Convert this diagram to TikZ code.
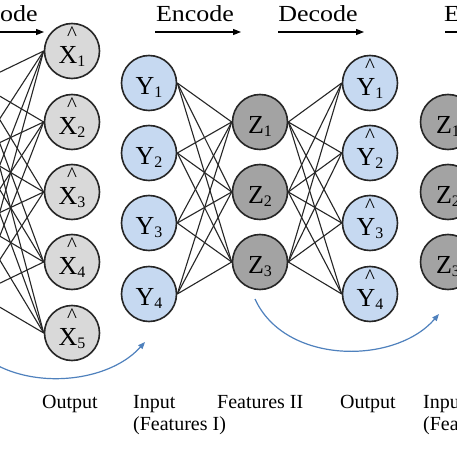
\documentclass[tikz,border=0pt]{standalone}
\usepackage{fontspec}
\setmainfont{Liberation Serif}
\usetikzlibrary{arrows.meta}
\definecolor{xfill}{HTML}{D9D9D9}
\definecolor{yfill}{HTML}{C6D9F1}
\definecolor{zfill}{HTML}{A3A3A3}
\definecolor{curveblue}{HTML}{4F81BD}
\definecolor{ring}{HTML}{262626}
\newcommand\nlab[2]{#1\raisebox{-3pt}{\fontsize{16}{16}\selectfont #2}}
\begin{document}
\begin{tikzpicture}[x=1pt,y=-1pt,
  neuron/.style={circle, draw=ring, line width=1.6pt, minimum size=55pt, inner sep=0pt,
    text height=23pt, text depth=0pt, font=\fontsize{26}{26}\selectfont},
  hatted/.style={neuron, text height=25pt,
    label={[hatlbl]center:\textasciicircum}},
  hatlbl/.style={font=\fontsize{21}{21}\selectfont, inner sep=0pt, yshift=17pt},
  xn/.style={hatted, fill=xfill},
  yn/.style={neuron, fill=yfill},
  yhn/.style={hatted, fill=yfill},
  zn/.style={neuron, fill=zfill},
  edge/.style={draw=black!85, line width=1.1pt},
  toplbl/.style={font=\fontsize{23}{23}\selectfont, inner sep=0pt, anchor=base},
  toparrow/.style={draw=black, line width=1.1pt, -{Triangle[length=8pt,width=6pt]}},
  botlbl/.style={font=\fontsize{20}{20}\selectfont, inner sep=0pt, anchor=base west},
  flow/.style={draw=curveblue, line width=1.2pt, -{Triangle[length=7pt,width=5.5pt]}}
]
\path[use as bounding box, clip] (0,0) rectangle (457,457);
\fill[white] (0,0) rectangle (457,457);

% east points of the previous hidden layer (off canvas)
\foreach \i/\yy in {1/83,2/153,3/223,4/294}
  \coordinate (p\i) at (-22.5,\yy);
% reconstructed output X-hat
\foreach \i/\yy in {1/51,2/122,3/192,4/262,5/333}
  \node[xn] (xh\i) at (72,\yy) {\nlab{X}{\i}};
% input (features I)
\foreach \i/\yy in {1/83,2/153,3/223,4/294}
  \node[yn] (y\i) at (149,\yy) {\nlab{Y}{\i}};
% features II
\foreach \i/\yy in {1/122,2/192,3/262}
  \node[zn] (z\i) at (260,\yy) {\nlab{Z}{\i}};
% output Y-hat
\foreach \i/\yy in {1/83,2/153,3/223,4/294}
  \node[yhn] (yh\i) at (370,\yy) {\nlab{Y}{\i}};
% next input (features II)
\foreach \i/\yy in {1/122,2/192,3/262}
  \node[zn] (zz\i) at (448,\yy) {\nlab{Z}{\i}};

% connections
\foreach \i in {1,...,4}
  \foreach \j in {1,...,5}
    \draw[edge] (p\i) -- (xh\j.west);
\foreach \i in {1,...,4}
  \foreach \j in {1,...,3}
    \draw[edge] (y\i.east) -- (z\j.west);
\foreach \i in {1,...,3}
  \foreach \j in {1,...,4}
    \draw[edge] (z\i.east) -- (yh\j.west);

% top labels and arrows
\node[toplbl] (dec0) at (-2,22) {\scalebox{1.13}[1]{Decode}};
\node[toplbl] (enc1) at (195,22) {\scalebox{1.13}[1]{Encode}};
\node[toplbl] (dec1) at (318,22) {\scalebox{1.13}[1]{Decode}};
\node[toplbl] (enc2) at (483,22) {\scalebox{1.13}[1]{Encode}};
\coordinate (a0s) at (-42,32); \coordinate (a0e) at (44,32);
\coordinate (a1s) at (155,32); \coordinate (a1e) at (241,32);
\coordinate (a2s) at (278,32); \coordinate (a2e) at (364,32);
\coordinate (a3s) at (445,32); \coordinate (a3e) at (531,32);
\draw[toparrow] (a0s) -- (a0e);
\draw[toparrow] (a1s) -- (a1e);
\draw[toparrow] (a2s) -- (a2e);
\draw[toparrow] (a3s) -- (a3e);

% feedback curves
\coordinate (c1s) at (-40,328); \coordinate (c1e) at (145,342);
\coordinate (c2s) at (255,299); \coordinate (c2e) at (439,314);
\draw[flow] (c1s) .. controls (-10,392) and (100,392) .. (c1e);
\draw[flow] (c2s) .. controls (285,365) and (395,365) .. (c2e);

% bottom labels
\node[botlbl] (lout1) at (42,408) {Output};
\node[botlbl] (lin1) at (133,408) {Input};
\node[botlbl] (lin1b) at (133,430) {(Features I)};
\node[botlbl] (lf2) at (217,408) {Features II};
\node[botlbl] (lout2) at (340,408) {Output};
\node[botlbl] (lin2) at (423,408) {Input};
\node[botlbl] (lin2b) at (423,430) {(Features II)};
\end{tikzpicture}
\end{document}
